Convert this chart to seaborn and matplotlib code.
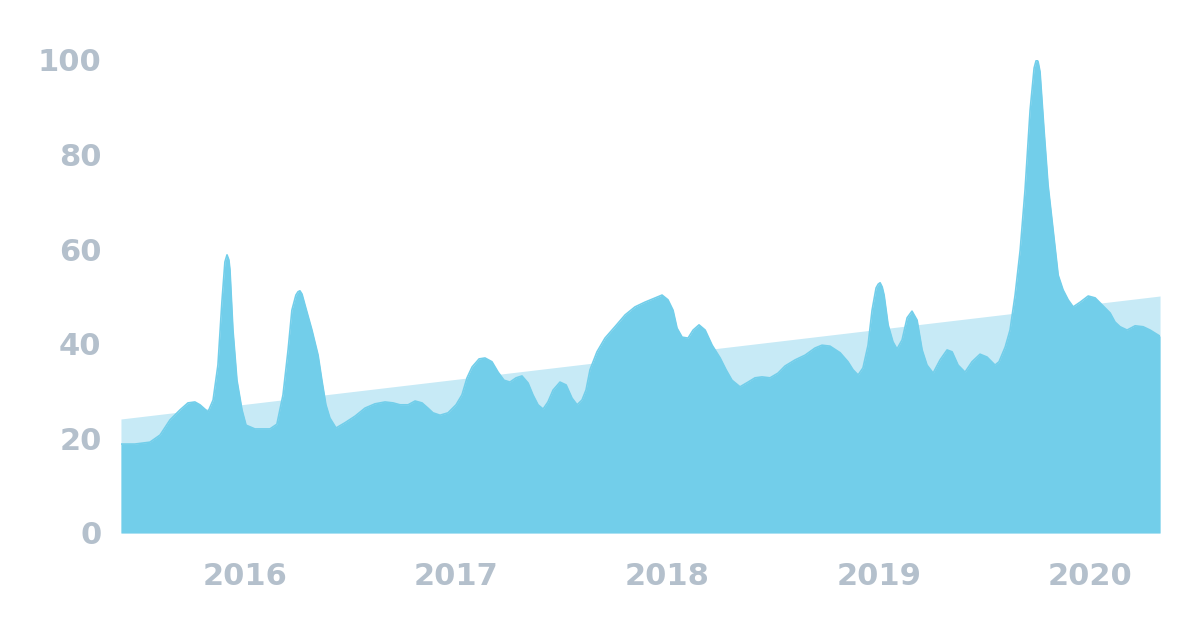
import matplotlib
matplotlib.use("Agg")
import matplotlib.pyplot as plt
import seaborn as sns
import numpy as np
import pandas as pd

# Time in decimal years, interest values (0-100)
years = [
    2015.413, 2015.479, 2015.550, 2015.598, 2015.645, 2015.692, 2015.730, 2015.763, 2015.787, 2015.825,
    2015.849, 2015.872, 2015.891, 2015.905, 2015.915, 2015.924, 2015.929, 2015.943, 2015.962, 2015.986, 2016.005,
    2016.047, 2016.118, 2016.151, 2016.180, 2016.204, 2016.222, 2016.241, 2016.251, 2016.260, 2016.270, 2016.284, 2016.317,
    2016.346, 2016.364, 2016.383, 2016.402, 2016.431, 2016.473, 2016.521, 2016.568, 2016.615, 2016.663,
    2016.701, 2016.734, 2016.772, 2016.805, 2016.838, 2016.866, 2016.890, 2016.923, 2016.961, 2016.999,
    2017.027, 2017.051, 2017.075, 2017.108, 2017.136, 2017.169, 2017.198, 2017.226, 2017.254, 2017.283,
    2017.311, 2017.340, 2017.363, 2017.387, 2017.411, 2017.434, 2017.458, 2017.491, 2017.520, 2017.548,
    2017.572, 2017.595, 2017.614, 2017.633, 2017.666, 2017.704, 2017.751, 2017.799, 2017.846, 2017.893,
    2017.941, 2017.974, 2018.002, 2018.026, 2018.045, 2018.069, 2018.097, 2018.121, 2018.149, 2018.178,
    2018.211, 2018.249, 2018.277, 2018.305, 2018.343, 2018.381, 2018.414, 2018.447, 2018.485, 2018.523,
    2018.556, 2018.604, 2018.651, 2018.698, 2018.731, 2018.769, 2018.817, 2018.854, 2018.878, 2018.902,
    2018.925, 2018.949, 2018.968, 2018.987, 2018.997, 2019.006, 2019.016, 2019.025, 2019.044, 2019.067, 2019.086, 2019.110,
    2019.134, 2019.157, 2019.181, 2019.205, 2019.228, 2019.257, 2019.290, 2019.323, 2019.347, 2019.375,
    2019.408, 2019.441, 2019.479, 2019.512, 2019.550, 2019.569, 2019.598, 2019.621, 2019.645, 2019.669,
    2019.692, 2019.716, 2019.735, 2019.744, 2019.749, 2019.754, 2019.763, 2019.782, 2019.801, 2019.825, 2019.849, 2019.872,
    2019.896, 2019.920, 2019.953, 2019.991, 2020.024, 2020.062, 2020.095, 2020.118, 2020.142, 2020.175,
    2020.213, 2020.251, 2020.284, 2020.331,
]
interest = [
    18.8, 18.8, 19.2, 20.7, 23.9, 26.0, 27.5, 27.7, 27.1, 25.6,
    28.1, 35.5, 49.0, 57.3, 58.8, 57.7, 55.6, 43.0, 32.3, 26.0, 22.8,
    22.0, 22.0, 23.0, 29.2, 38.7, 47.1, 50.3, 51.0, 51.2, 50.5, 48.2, 42.9,
    37.6, 32.3, 27.1, 24.3, 22.2, 23.3, 24.7, 26.4, 27.3, 27.7,
    27.5, 27.1, 27.1, 27.9, 27.5, 26.4, 25.4, 24.9, 25.4, 27.1,
    29.2, 32.8, 35.1, 36.8, 37.0, 36.2, 34.0, 32.3, 31.9, 32.8,
    33.2, 31.7, 29.2, 27.1, 26.2, 27.7, 30.2, 31.9, 31.3, 28.5,
    27.1, 28.1, 30.2, 34.5, 38.3, 41.2, 43.6, 46.1, 47.8, 48.8,
    49.7, 50.3, 49.3, 47.1, 43.3, 41.4, 41.2, 42.9, 44.0, 42.9,
    39.7, 37.0, 34.5, 32.3, 30.9, 31.9, 32.8, 33.0, 32.8, 33.8,
    35.3, 36.6, 37.6, 39.1, 39.7, 39.5, 38.1, 36.2, 34.5, 33.4,
    34.9, 39.7, 47.1, 51.8, 52.6, 52.9, 52.0, 50.3, 44.0, 40.4, 38.9, 40.8,
    45.5, 46.9, 45.0, 38.7, 35.5, 33.8, 36.6, 38.7, 38.3, 35.5,
    34.0, 36.2, 37.8, 37.2, 35.5, 36.2, 39.3, 42.9, 50.3, 59.8,
    72.5, 89.4, 98.3, 99.8, 100.0, 99.6, 97.5, 85.2, 73.6, 64.1, 54.5, 51.4,
    49.3, 47.8, 48.8, 50.1, 49.7, 48.0, 46.5, 44.6, 43.6, 42.9,
    43.8, 43.6, 42.9, 41.6,
]
# Linear trend endpoints
trend_years = [2015.413, 2020.331]
trend_values = [24.1, 50.1]

year_ticks = [2016, 2017, 2018, 2019, 2020]
value_ticks = [0, 20, 40, 60, 80, 100]

df = pd.DataFrame({"year": years, "interest": interest})
trend = pd.DataFrame({"year": trend_years, "value": trend_values})

sns.set_style("white")
plt.rcParams["font.family"] = ["DejaVu Sans"]

fig = plt.figure(figsize=(12, 6.28), dpi=100)
ax = fig.add_axes([0.1008, 0.1513, 0.8659, 0.7532])

main_color = "#72CEEA"
trend_color = "#C7EAF6"
label_color = "#B4C0CC"

ax.fill_between(trend["year"], 0, trend["value"], color=trend_color, linewidth=0, zorder=1)
ax.fill_between(df["year"], 0, df["interest"], color=main_color, linewidth=0, zorder=2)
sns.lineplot(data=df, x="year", y="interest", ax=ax, color=main_color, linewidth=1.2,
             solid_joinstyle="round", solid_capstyle="round", zorder=3)

ax.set_xlim(trend_years[0], trend_years[1])
ax.set_ylim(0, 100)
ax.set_xticks(year_ticks)
ax.set_xticklabels([str(y) for y in year_ticks])
ax.set_yticks(value_ticks)
ax.set_yticklabels([str(v) for v in value_ticks])
ax.set_xlabel("")
ax.set_ylabel("")
for s in ax.spines.values():
    s.set_visible(False)
ax.tick_params(axis="both", length=0, labelsize=22, labelcolor=label_color)
ax.tick_params(axis="y", pad=14)
ax.tick_params(axis="x", pad=21)
for lbl in ax.get_xticklabels() + ax.get_yticklabels():
    lbl.set_fontweight("bold")
ax.grid(False)

fig.savefig("out.png", dpi=100, facecolor="white")
